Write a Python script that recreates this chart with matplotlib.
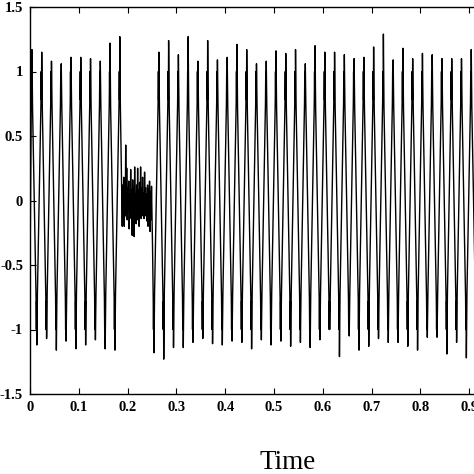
import numpy as np
import matplotlib
matplotlib.use('Agg')
import matplotlib.pyplot as plt

# 50 Hz waveform: one peak and one trough per cycle
period = 0.02
peak_phase = 0.004
trough_phase = 0.014

# cycles 0-9 before the sag
peaks_pre = [1.17, 1.15, 1.08, 1.06, 1.11, 1.11, 1.10, 1.08, 1.22, 1.27]
# cycles 0-8
troughs_pre = [-1.12, -1.07, -1.16, -1.09, -1.15, -1.12, -1.08, -1.15, -1.16]

# cycles 13-45 after the sag
peaks_post = [1.15, 1.24, 1.13, 1.27, 1.08, 1.24, 1.09, 1.11, 1.21, 1.17,
              1.06, 1.08, 1.16, 1.14, 1.17, 1.06, 1.20, 1.15, 1.15, 1.13,
              1.10, 1.11, 1.19, 1.29, 1.09, 1.18, 1.10, 1.14, 1.13, 1.10,
              1.10, 1.10, 1.17]
# cycles 12-45
troughs_post = [-1.18, -1.23, -1.14, -1.14, -1.10, -1.07, -1.11, -1.12, -1.09,
                -1.10, -1.15, -1.08, -1.12, -1.09, -1.13, -1.10, -1.14, -1.08,
                -1.00, -1.21, -1.05, -1.16, -1.13, -1.07, -1.10, -1.10, -1.13,
                -1.16, -1.06, -1.06, -1.19, -1.10, -1.22, -1.10]

# harmonic ripple levels around each peak (mirrored for troughs)
ripple_top = [0.75, 1.00, 0.78, 0.72]
ripple_bot = [-0.75, -1.00, -0.78, -0.72]

# noise burst during the interruption
burst_start, burst_end = 0.189, 0.251
burst = [-0.20, 0.12, -0.18, 0.18, -0.20, 0.08, -0.12, 0.43, -0.10, 0.25,
         -0.15, 0.10, -0.05, 0.15, -0.22, 0.05, -0.12, 0.24, -0.14, 0.08,
         -0.27, 0.16, -0.20, 0.10, -0.28, 0.26, -0.12, 0.05, -0.18, 0.12,
         -0.15, 0.25, -0.10, 0.08, -0.20, 0.14, -0.06, 0.26, -0.14, 0.10,
         -0.08, 0.18, -0.12, 0.06, -0.14, 0.22, -0.04, 0.10, -0.12, 0.05,
         -0.16, 0.12, -0.20, 0.09, -0.11, 0.15, -0.24, 0.07, -0.15, 0.11,
         -0.10, -0.35]

xticks = [0, 0.1, 0.2, 0.3, 0.4, 0.5, 0.6, 0.7, 0.8, 0.9, 1.0]
xticklabels = ['0', '0.1', '0.2', '0.3', '0.4', '0.5', '0.6', '0.7', '0.8', '0.9', '1']
yticks = [-1.5, -1, -0.5, 0, 0.5, 1, 1.5]
yticklabels = ['-1.5', '-1', '-0.5', '0', '0.5', '1', '1.5']

# time offsets of the ripple points around an extremum
offs = [-0.0016, -0.0010, -0.0005, 0.0, 0.0012]


def add_extremum(pts, t, v, ripple):
    levels = ripple[:3] + [v] + ripple[3:]
    for dt, lv in zip(offs, levels):
        pts.append((t + dt, lv))


pts = [(0.0, -0.6)]
for k, pv in enumerate(peaks_pre):
    add_extremum(pts, peak_phase + k * period, pv, ripple_top)
    if k < len(troughs_pre):
        add_extremum(pts, trough_phase + k * period, troughs_pre[k], ripple_bot)

for t, v in zip(np.linspace(burst_start, burst_end, len(burst)), burst):
    pts.append((t, v))

for i, tv in enumerate(troughs_post):
    add_extremum(pts, trough_phase + (12 + i) * period, tv, ripple_bot)
    if i < len(peaks_post):
        add_extremum(pts, peak_phase + (13 + i) * period, peaks_post[i], ripple_top)

t_all = [p[0] for p in pts]
y_all = [p[1] for p in pts]

fig = plt.figure(figsize=(4.74, 4.74), dpi=100)
ax = fig.add_axes([30 / 474, 80 / 474, 488.1 / 474, 387 / 474])

ax.plot(t_all, y_all, color='k', linewidth=1.0)

ax.set_xlim(0, 1.0)
ax.set_ylim(-1.5, 1.5)

tick_font = dict(family='Liberation Serif', weight='bold', size=10.5)
ax.set_xticks(xticks)
ax.set_xticklabels(xticklabels, fontdict=tick_font)
ax.set_yticks(yticks)
ax.set_yticklabels(yticklabels, fontdict=tick_font)
ax.tick_params(direction='in', length=4, width=0.8, top=True, right=True, pad=5)

for s in ax.spines.values():
    s.set_linewidth(1.0)

fig.text(288 / 474, 5 / 474, 'Time', family='Liberation Serif', size=19.5,
         ha='center', va='baseline')

fig.savefig('out.png', dpi=100)
